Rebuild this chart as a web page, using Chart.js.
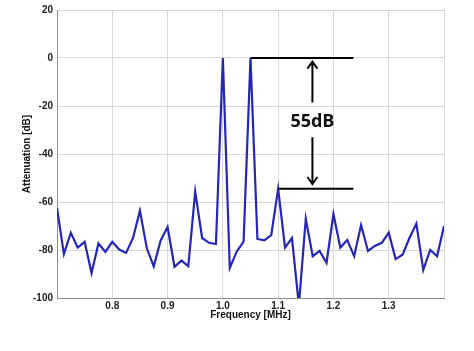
<!DOCTYPE html>
<html>
<head>
<meta charset="utf-8">
<script src="https://cdn.jsdelivr.net/npm/chart.js@4/dist/chart.umd.min.js"></script>
<style>
  html, body { margin: 0; padding: 0; background: #fff; }
  #wrap { width: 474px; height: 351px; }
</style>
</head>
<body>
<div id="wrap"><canvas id="spectrum" width="474" height="351"></canvas></div>
<script>
// frequency points (MHz)
const freqs = [
  0.7, 0.7125, 0.725, 0.7375, 0.75, 0.7625, 0.775, 0.7875, 0.8, 0.8125,
  0.825, 0.8375, 0.85, 0.8625, 0.875, 0.8875, 0.9, 0.9125, 0.925, 0.9375,
  0.95, 0.9625, 0.975, 0.9875, 1.0, 1.0125, 1.025, 1.0375, 1.05, 1.0625,
  1.075, 1.0875, 1.1, 1.1125, 1.125, 1.1375, 1.15, 1.1625, 1.175, 1.1875,
  1.2, 1.2125, 1.225, 1.2375, 1.25, 1.2625, 1.275, 1.2875, 1.3, 1.3125,
  1.325, 1.3375, 1.35, 1.3625, 1.375, 1.3875, 1.4
];
// attenuation (dB)
const attenuation = [
  -62.5, -81.7, -72.8, -79, -76.6, -89.6, -77.3, -80.8, -76.6, -79.8,
  -81.2, -75, -63.6, -79.3, -86.8, -76, -70.4, -87, -84.4, -86.7,
  -55.7, -75, -77, -77.5, 0, -87.5, -80.7, -76.5, 0, -75.4,
  -76, -73.8, -54.5, -79, -75, -103, -67, -82.6, -80.4, -85.4,
  -65, -79, -75.8, -82.6, -69.6, -80.4, -78.3, -77, -72.8, -83.8,
  -82, -75, -69, -88.3, -80, -82.6, -70
];
const xTickLabels = ['0.8', '0.9', '1.0', '1.1', '1.2', '1.3'];
const yTickLabels = ['-100', '-80', '-60', '-40', '-20', '0', '20'];

// 55dB marker (data units)
const markerLevels = [0, -54.5];       // top / bottom horizontal lines
const markerStarts = [1.05, 1.1];      // where each line begins
const markerEnd = 1.236;
const arrowX = 1.162;
const arrowUp = [-18.5, -1.5];         // shaft start, tip
const arrowDown = [-33, -52.5];
const markerText = '55dB';
const markerTextY = -26.5;

const annotate = {
  id: 'annotate',
  afterDatasetsDraw(chart) {
    const x = chart.scales.x, y = chart.scales.y, c = chart.ctx;
    c.save();
    c.strokeStyle = '#000';
    c.lineWidth = 2;
    c.lineCap = 'butt';
    markerLevels.forEach((lv, i) => {
      c.beginPath();
      c.moveTo(x.getPixelForValue(markerStarts[i]), y.getPixelForValue(lv));
      c.lineTo(x.getPixelForValue(markerEnd), y.getPixelForValue(lv));
      c.stroke();
    });
    const ax = x.getPixelForValue(arrowX);
    [arrowUp, arrowDown].forEach(a => {
      const y0 = y.getPixelForValue(a[0]), y1 = y.getPixelForValue(a[1]);
      const dir = y1 < y0 ? 1 : -1;
      c.beginPath();
      c.moveTo(ax, y0);
      c.lineTo(ax, y1);
      c.moveTo(ax - 5, y1 + dir * 7);
      c.lineTo(ax, y1);
      c.lineTo(ax + 5, y1 + dir * 7);
      c.stroke();
    });
    c.fillStyle = '#111';
    c.font = 'bold 18px "Open Sans", sans-serif';
    c.textAlign = 'center';
    c.textBaseline = 'middle';
    c.fillText(markerText, ax, y.getPixelForValue(markerTextY));
    c.restore();
  }
};

new Chart(document.getElementById('spectrum').getContext('2d'), {
  type: 'line',
  data: {
    datasets: [{
      data: freqs.map((f, i) => ({ x: f, y: attenuation[i] })),
      borderColor: '#2626b4',
      borderWidth: 2.2,
      pointRadius: 0,
      tension: 0,
      fill: false
    }]
  },
  options: {
    responsive: false,
    animation: false,
    layout: { padding: { left: 0, top: 10, right: 30, bottom: 23 } },
    plugins: { legend: { display: false }, tooltip: { enabled: false } },
    scales: {
      x: {
        type: 'linear',
        min: 0.7,
        max: 1.4,
        afterFit: s => { s.height = 30; },
        ticks: {
          stepSize: 0.1,
          padding: 2,
          color: '#222',
          font: { family: '"Liberation Sans", Arial, sans-serif', size: 10, weight: 'bold' },
          callback: v => {
            const t = Number(v).toFixed(1);
            return xTickLabels.includes(t) ? t : '';
          }
        },
        grid: { color: '#d8d8d8', drawTicks: false },
        border: { color: '#8c8c8c' },
        title: {
          display: true,
          text: 'Frequency [MHz]',
          color: '#111',
          padding: { top: 0, bottom: 7 },
          font: { family: '"Liberation Sans", Arial, sans-serif', size: 10, weight: 'bold' }
        }
      },
      y: {
        min: -100,
        max: 20,
        afterFit: s => { s.width = 57; },
        ticks: {
          stepSize: 20,
          padding: 4,
          color: '#222',
          font: { family: '"Liberation Sans", Arial, sans-serif', size: 10, weight: 'bold' },
          callback: v => yTickLabels.includes(String(v)) ? String(v) : ''
        },
        grid: { color: '#d8d8d8', drawTicks: false },
        border: { color: '#8c8c8c' },
        title: {
          display: true,
          text: 'Attenuation [dB]',
          color: '#111',
          padding: { top: 21, bottom: 0 },
          font: { family: '"Liberation Sans", Arial, sans-serif', size: 10, weight: 'bold' }
        }
      }
    }
  },
  plugins: [annotate]
});
</script>
</body>
</html>
